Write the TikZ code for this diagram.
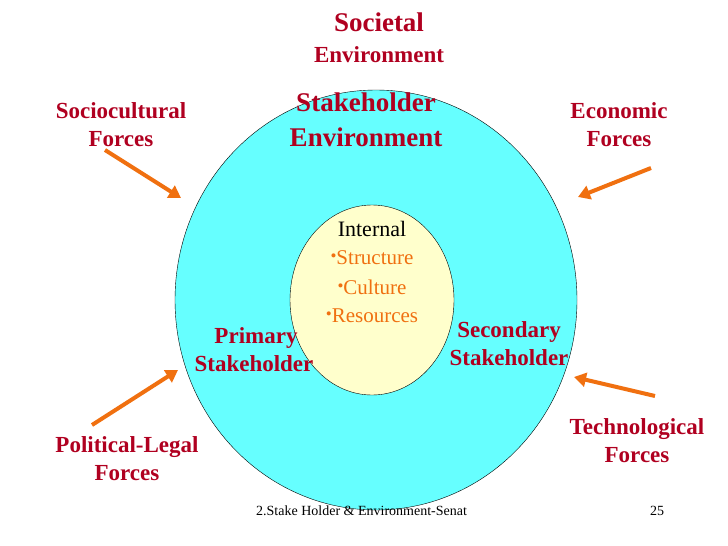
\documentclass[tikz,border=0pt]{standalone}
\usepackage{fontspec}
\setmainfont{Liberation Serif}
\usetikzlibrary{arrows.meta,shapes.geometric}
\definecolor{darkred}{HTML}{B00020}
\definecolor{forceorange}{HTML}{F07010}
\definecolor{ringcyan}{HTML}{66FFFF}
\definecolor{corecream}{HTML}{FFFFCC}
\newcommand{\dotmark}{\raisebox{3pt}{\fontsize{17}{17}\selectfont•}}
\tikzset{
  label/.style={text=darkred, font=\bfseries\fontsize{23}{28}\selectfont, align=center},
  force/.style={draw=forceorange, line width=4pt, -{Triangle[length=12pt,width=14pt]}},
  bullet/.style={text=forceorange, font=\fontsize{21}{24}\selectfont, align=center, inner sep=1pt}
}
\begin{document}
\begin{tikzpicture}[x=1pt,y=-1pt]
  \useasboundingbox (0,0) rectangle (728,546);
  \node[ellipse, draw=black, fill=ringcyan, minimum width=402pt, minimum height=420pt] (ring) at (376,300) {};
  \node[ellipse, draw=black, fill=corecream, minimum width=164pt, minimum height=190pt] (core) at (372,300) {};
  \node[label, font=\bfseries\fontsize{27}{30}\selectfont] (societal) at (379,22) {Societal};
  \node[label] (environment) at (379,55) {Environment};
  \node[label, font=\bfseries\fontsize{27}{35}\selectfont] (stakeholder) at (366,120) {Stakeholder\\Environment};
  \node[font=\fontsize{22}{26}\selectfont] (internal) at (372,229) {Internal};
  \node[bullet] (structure) at (372,258) {\dotmark Structure};
  \node[bullet] (culture) at (372,287) {\dotmark Culture};
  \node[bullet] (resources) at (372,316) {\dotmark Resources};
  \node[label] (primary) at (254,350) {\hspace{4pt}Primary\\Stakeholder};
  \node[label] (secondary) at (509,344) {Secondary\\Stakeholder};
  \node[label] (socio) at (121,125) {Sociocultural\\Forces};
  \node[label] (economic) at (619,125) {Economic\\Forces};
  \node[label] (political) at (127,459) {Political-Legal\\Forces};
  \node[label] (techno) at (637,441) {Technological\\Forces};
  \coordinate (sociotip) at (181,198);
  \coordinate (ecotip) at (578,197);
  \coordinate (poltip) at (178,370);
  \coordinate (techtip) at (574,377);
  \draw[force] (105,150) -- (sociotip);
  \draw[force] (651,168) -- (ecotip);
  \draw[force] (92,425) -- (poltip);
  \draw[force] (655,396) -- (techtip);
  \node[anchor=west, font=\fontsize{14}{16}\selectfont, inner sep=0pt] (footer) at (256,511) {2.Stake Holder \& Environment-Senat};
  \node[font=\fontsize{14}{16}\selectfont] (page) at (657,511) {25};
\end{tikzpicture}
\end{document}
